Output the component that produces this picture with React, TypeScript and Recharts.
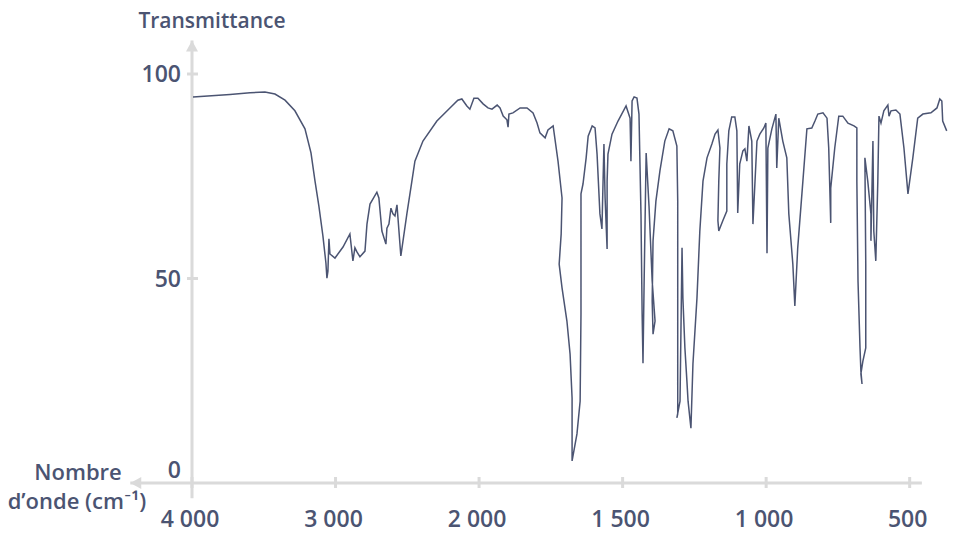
import { LineChart, Line, XAxis, YAxis, ReferenceLine } from "recharts";

// IR spectrum (wavenumber in cm-1, transmittance in %)
const WAVENUMBER = [
  3993, 3735, 3596, 3492, 3422, 3352, 3283, 3213, 3171, 3143, 3116, 3088, 3067, 3060, 3053, 3046, 3039, 3004,
  2948, 2900, 2879, 2865, 2851, 2830, 2795, 2781, 2760, 2712, 2698, 2677, 2649, 2642, 2628, 2614, 2600, 2586,
  2572, 2565, 2545, 2503, 2468, 2447, 2391, 2294, 2203, 2148, 2120, 2085, 2064, 2036, 2008, 1986, 1969, 1955,
  1937, 1927, 1916, 1903, 1899, 1896, 1882, 1857, 1833, 1812, 1798, 1788, 1770, 1760, 1742, 1725, 1711, 1714,
  1721, 1711, 1694, 1683, 1676, 1676, 1659, 1648, 1645, 1645, 1638, 1627, 1620, 1606, 1596, 1589, 1579, 1572,
  1565, 1561, 1554, 1554, 1551, 1537, 1516, 1488, 1474, 1471, 1467, 1460, 1450, 1443, 1436, 1432, 1429, 1425,
  1418, 1408, 1397, 1387, 1394, 1397, 1394, 1384, 1370, 1353, 1338, 1325, 1311, 1308, 1308, 1311, 1300, 1293,
  1290, 1283, 1276, 1272, 1262, 1255, 1241, 1231, 1220, 1206, 1189, 1178, 1168, 1161, 1165, 1168, 1165, 1151,
  1137, 1137, 1130, 1120, 1109, 1102, 1099, 1092, 1081, 1074, 1067, 1060, 1050, 1046, 1032, 1022, 1008, 1001,
  997, 994, 980, 966, 963, 956, 942, 928, 921, 907, 900, 890, 872, 858, 841, 830, 820, 802, 788, 782, 775, 775,
  761, 747, 733, 715, 694, 684, 684, 680, 673, 670, 666, 670, 663, 653, 653, 656, 646, 635, 635, 628, 625, 618,
  611, 607, 600, 590, 576, 572, 565, 548, 534, 520, 506, 489, 472, 454, 426, 405, 395, 388, 385, 371,
];

const TRANSMITTANCE = [
  94.4, 95.0, 95.4, 95.6, 95.1, 93.6, 91.0, 86.6, 80.7, 73.8, 67.7, 60.4, 53.8, 50.1, 51.8, 59.7, 56.0, 55.0,
  57.7, 60.9, 54.3, 57.5, 56.5, 55.3, 56.7, 63.3, 68.2, 71.1, 69.7, 61.6, 58.4, 62.3, 63.3, 67.2, 65.8, 65.3,
  68.0, 64.8, 55.5, 65.8, 73.8, 78.7, 83.6, 88.5, 91.7, 93.6, 93.9, 92.2, 91.4, 94.1, 94.1, 92.7, 91.7, 91.4,
  92.4, 91.7, 89.7, 88.8, 87.0, 90.2, 90.5, 91.7, 91.7, 90.5, 88.0, 85.6, 84.4, 86.3, 87.3, 78.7, 69.7, 60.9,
  53.5, 47.7, 39.6, 31.5, 20.8, 5.4, 12.0, 20.0, 41.3, 70.7, 73.1, 79.5, 84.8, 87.3, 86.8, 80.4, 65.8, 62.1,
  82.9, 69.7, 57.2, 73.8, 80.4, 85.3, 88.5, 92.2, 89.2, 78.7, 93.4, 94.4, 94.1, 90.2, 65.8, 41.3, 29.3, 49.4,
  80.7, 67.7, 49.4, 39.6, 36.4, 44.5, 59.2, 68.9, 76.3, 83.6, 86.6, 86.1, 82.4, 68.9, 16.9, 15.9, 20.0, 57.5,
  45.2, 33.0, 24.9, 20.0, 13.4, 29.1, 45.2, 61.6, 73.8, 79.5, 82.9, 85.3, 86.3, 81.9, 73.8, 64.1, 61.6, 64.1,
  66.5, 78.0, 86.1, 89.5, 89.5, 86.1, 66.0, 78.0, 81.2, 81.7, 78.7, 87.3, 83.6, 63.3, 83.6, 85.3, 86.8, 88.0,
  56.2, 81.9, 86.6, 90.2, 77.0, 89.2, 83.6, 79.5, 65.8, 53.5, 43.3, 57.5, 73.8, 86.6, 86.8, 88.5, 90.2, 90.5, 89.2, 81.9, 63.6, 72.1,
  81.9, 89.7, 89.7, 88.0, 87.3, 86.8, 73.8, 49.4, 33.0, 27.4, 24.2, 26.7, 29.8, 33.0, 53.5, 79.5, 73.8, 65.8, 59.2, 83.6, 61.6, 54.3,
  73.8, 89.7, 88.0, 91.0, 92.4, 89.7, 91.0, 91.2, 90.2, 81.9, 70.7, 79.5, 89.2, 90.2, 90.5, 91.7, 93.9, 93.4, 88.5, 86.1,
];

const X_TICKS = [4000, 3000, 2000, 1500, 1000, 500];
const X_TICK_LABELS = ["4 000", "3 000", "2 000", "1 500", "1 000", "500"];
const Y_TICKS = [0, 50, 100];

const TEXT = "#4b5472";
const AXIS = "#dadada";
const LINE = "#4b5472";
const FONT = "'Open Sans', Lato, sans-serif";

// the x axis is evenly spaced per tick: 1000 cm-1 per step above 2000, 500 cm-1 below
const toPos = (w: number) => (w >= 2000 ? (4000 - w) / 1000 : 2 + (2000 - w) / 500);

const data = WAVENUMBER.map((w, i) => ({ pos: toPos(w), t: TRANSMITTANCE[i] }));
const xTickPos = X_TICKS.map(toPos);

const XTick = (props: any) => {
  const { x, y, payload } = props;
  const i = xTickPos.findIndex((p) => Math.abs(p - payload.value) < 1e-6);
  return (
    <g>
      <line x1={x} x2={x} y1={y - 6} y2={y + 5} stroke={AXIS} strokeWidth={3} />
      <text x={x - 2} y={y + 44} textAnchor="middle" fill={TEXT} fontSize={23} fontWeight={600} fontFamily={FONT}>
        {X_TICK_LABELS[i]}
      </text>
    </g>
  );
};

const YTick = (props: any) => {
  const { x, y, payload } = props;
  const v = payload.value;
  return (
    <g>
      {v !== 0 && <line x1={x - 5} x2={x + 6} y1={y} y2={y} stroke={AXIS} strokeWidth={3} />}
      <text x={x - 11} y={v === 0 ? y - 13 : y} dy={8} textAnchor="end" fill={TEXT} fontSize={23} fontWeight={600} fontFamily={FONT}>
        {v}
      </text>
    </g>
  );
};

const arrowAxis = (dir: "left" | "up") => (props: any) => {
  const { x1, y1, x2, y2 } = props;
  const lx = Math.min(x1, x2);
  const ty = Math.min(y1, y2);
  const head =
    dir === "left"
      ? `M${lx},${y1} L${lx + 11},${y1 - 6} L${lx + 11},${y1 + 6} Z`
      : `M${x1},${ty} L${x1 - 6},${ty + 11} L${x1 + 6},${ty + 11} Z`;
  return (
    <g>
      <line x1={x1} y1={y1} x2={x2} y2={y2} stroke={AXIS} strokeWidth={3} />
      <path d={head} fill={AXIS} />
    </g>
  );
};

export default function App() {
  return (
    <div style={{ position: "absolute", left: 0, top: 0, width: 955, height: 538, background: "#fff" }}>
      <LineChart width={955} height={538} data={data} margin={{ top: 74, right: 8, bottom: 0, left: 0 }}>
        <XAxis
          dataKey="pos"
          type="number"
          domain={[0, 5.26]}
          ticks={xTickPos}
          height={55}
          axisLine={false}
          tickLine={false}
          tickSize={0}
          tickMargin={0}
          tick={<XTick />}
          interval={0}
        />
        <YAxis
          type="number"
          domain={[0, 100]}
          ticks={Y_TICKS}
          width={192}
          axisLine={false}
          tickLine={false}
          tickSize={0}
          tickMargin={0}
          tick={<YTick />}
          interval={0}
        />
        <ReferenceLine
          segment={[{ x: -0.43, y: 0 }, { x: 5.085, y: 0 }]}
          ifOverflow="visible"
          shape={arrowAxis("left")}
        />
        <ReferenceLine
          segment={[{ x: 0, y: -3.7 }, { x: 0, y: 108.2 }]}
          ifOverflow="visible"
          shape={arrowAxis("up")}
        />
        <Line
          dataKey="t"
          type="linear"
          stroke={LINE}
          strokeWidth={1.5}
          dot={false}
          activeDot={false}
          isAnimationActive={false}
        />
      </LineChart>
      <svg width={955} height={538} style={{ position: "absolute", left: 0, top: 0, pointerEvents: "none" }}>
        <text x={212} y={28} textAnchor="middle" fill={TEXT} fontSize={21} fontWeight={600} fontFamily={FONT}>
          Transmittance
        </text>
        <text x={78} y={480} textAnchor="middle" fill={TEXT} fontSize={22} fontWeight={600} fontFamily={FONT}>
          Nombre
        </text>
        <text x={77} y={509} textAnchor="middle" fill={TEXT} fontSize={22} fontWeight={600} fontFamily={FONT}>
          d’onde (cm⁻¹)
        </text>
      </svg>
    </div>
  );
}
